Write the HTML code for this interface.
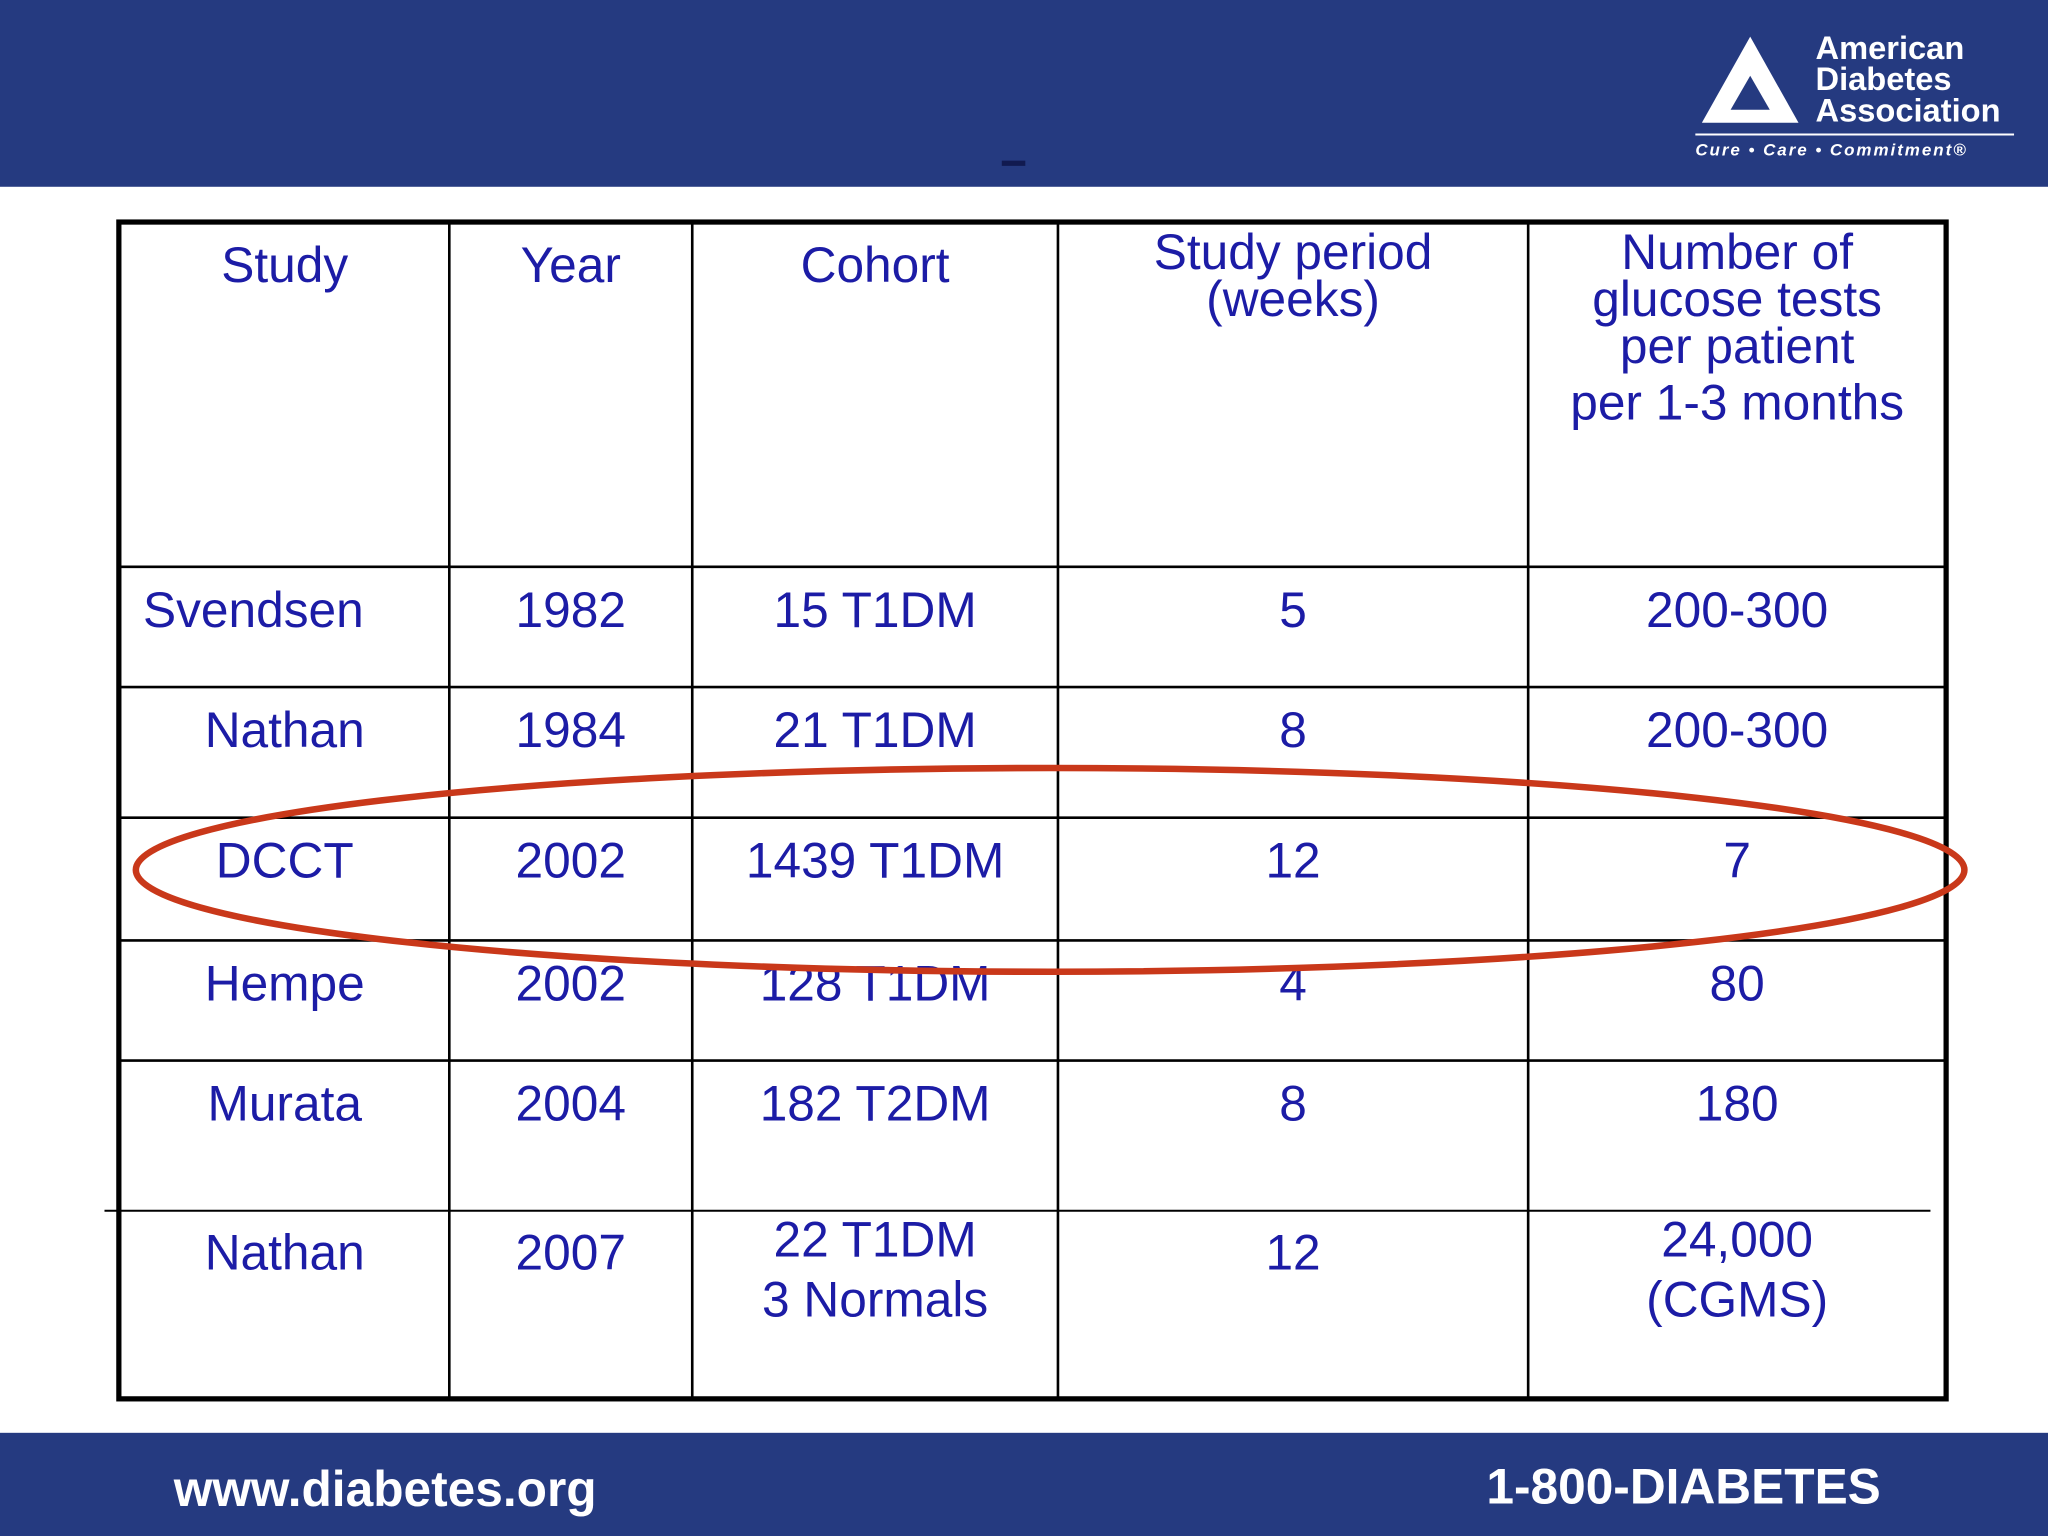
<!DOCTYPE html>
<html><head><meta charset="utf-8"><style>
html,body{margin:0;padding:0;background:#fff;}
#wrap{width:1568px;height:1176px;position:relative;transform:scale(1.306122);transform-origin:0 0;font-family:"Liberation Sans",Arial,sans-serif;overflow:hidden;}
.hdr{position:absolute;left:0;top:0;width:1568px;height:143px;background:#253a80;}
.ftr{position:absolute;left:0;top:1097px;width:1568px;height:79px;background:#253a80;}
.t{position:absolute;color:#1c1ca6;font-size:38px;text-align:center;line-height:36px;}
.ft{position:absolute;color:#fff;font-weight:bold;font-size:38px;}
</style></head><body>
<div id="wrap">
<div class="hdr"></div>
<div style="position:absolute;left:767px;top:123px;width:18px;height:4px;background:#111a50"></div>
<svg style="position:absolute;left:1295px;top:20px" width="260" height="110">
<polygon points="45,8 8,74 82,74" fill="#fff"/>
<polygon points="45,38 30,64 60,64" fill="#253a80"/>
<text x="95" y="25" fill="#fff" font-family="Liberation Sans" font-weight="bold" font-size="25">American</text>
<text x="95" y="49" fill="#fff" font-family="Liberation Sans" font-weight="bold" font-size="25">Diabetes</text>
<text x="95" y="73" fill="#fff" font-family="Liberation Sans" font-weight="bold" font-size="25">Association</text>
<line x1="3" y1="83" x2="247" y2="83" stroke="#fff" stroke-width="1.5"/>
<text x="3" y="99" fill="#fff" font-family="Liberation Sans" font-weight="bold" font-style="italic" font-size="13" letter-spacing="1.5">Cure • Care • Commitment®</text>
</svg>
<svg style="position:absolute;left:0;top:0" width="1568" height="1176">
<rect x="91" y="170" width="1399" height="901" fill="none" stroke="#000" stroke-width="4"/>
<g stroke="#000" stroke-width="2">
<line x1="344" y1="170" x2="344" y2="1071"/><line x1="530" y1="170" x2="530" y2="1071"/>
<line x1="810" y1="170" x2="810" y2="1071"/><line x1="1170" y1="170" x2="1170" y2="1071"/>
<line x1="91" y1="434" x2="1490" y2="434"/><line x1="91" y1="526" x2="1490" y2="526"/>
<line x1="91" y1="626" x2="1490" y2="626"/><line x1="91" y1="720" x2="1490" y2="720"/>
<line x1="91" y1="812" x2="1490" y2="812"/><line x1="80" y1="927" x2="1478" y2="927" stroke-width="1.5"/>
</g>
</svg>
<div id="cells"></div>
<svg style="position:absolute;left:0;top:0" width="1568" height="1176">
<ellipse cx="804" cy="666" rx="700" ry="78" fill="none" stroke="#c9381a" stroke-width="5"/>
</svg>
<div class="ftr"></div>
<div class="ft" style="left:133px;top:1120px">www.diabetes.org</div>
<div class="ft" style="left:1138px;top:1118px">1-800-DIABETES</div>
</div>
<script>
const colCenters=[218,437,670,990,1330];
const rowsTop=[450,542,642,736,828,928];
const header=["Study","Year","Cohort","Study period<br>(weeks)","Number of<br>glucose tests<br>per patient<br><span style='line-height:50px'>per 1-3 months</span>"];
const rows=[["Svendsen","1982","15 T1DM","5","200-300"],["Nathan","1984","21 T1DM","8","200-300"],["DCCT","2002","1439 T1DM","12","7"],["Hempe","2002","128 T1DM","4","80"],["Murata","2004","182 T2DM","8","180"],["Nathan","2007","22 T1DM<br>3 Normals","12","24,000<br>(CGMS)"]];
const c=document.getElementById('cells');
function add(html,x,y,name,lh){const d=document.createElement('div');d.className='t';d.innerHTML=html;d.style.left=(x-200)+'px';d.style.width='400px';d.style.top=y+'px';if(lh)d.style.lineHeight=lh+'px';


c.appendChild(d);}
header.forEach((h,i)=>add(h,colCenters[i],i>=3?176:186,'header-cell'));
rows.forEach((r,ri)=>r.forEach((v,ci)=>{let y=rowsTop[ri];let lh=0;if(ri==5&&(ci==2||ci==4)){y=927;lh=46;}else if(ri==5)y=942;add(v,ci==0&&ri==0?194:colCenters[ci],y,'table-cell',lh);}));
</script>
</body></html>
